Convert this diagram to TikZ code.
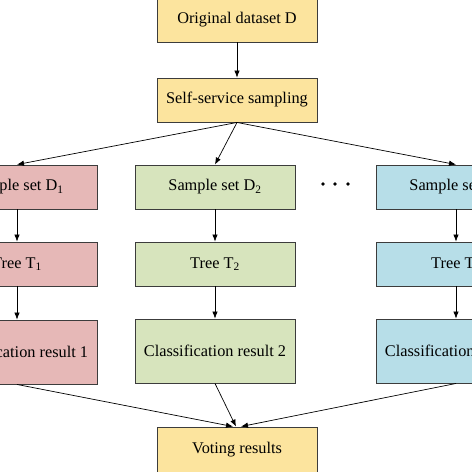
\documentclass[tikz,border=0pt]{standalone}
\usepackage{fontspec}
\setmainfont{Liberation Serif}
\usetikzlibrary{arrows.meta}
\definecolor{boxyellow}{RGB}{252,228,158}
\definecolor{boxpink}{RGB}{230,184,183}
\definecolor{boxgreen}{RGB}{215,228,189}
\definecolor{boxblue}{RGB}{183,222,232}
\definecolor{boxline}{RGB}{60,60,60}
\tikzset{
  stagebox/.style={draw=boxline, line width=0.9pt, minimum width=160, minimum height=44,
    inner sep=0pt, font=\fontsize{16.3}{19}\selectfont},
  flowarrow/.style={-{Latex[length=7pt,width=5.5pt]}, line width=0.7pt}
}
\begin{document}
\begin{tikzpicture}[x=1pt,y=1pt,yscale=-1,xscale=1]
        \clip (0,0) rectangle (472,472);
        % main column
        \node [stagebox, fill=boxyellow] (orig) at (237,20) {Original dataset D};
        \node [stagebox, fill=boxyellow] (samp) at (237,100) {Self-service sampling};
        % sample sets
        \node [stagebox, fill=boxpink] (set1) at (17,187) {Sample set D\textsubscript{1}};
        \node [stagebox, fill=boxgreen] (set2) at (215,187) {Sample set D\textsubscript{2}};
        \node [stagebox, fill=boxblue] (setn) at (456,187) {Sample set D\textsubscript{n}};
        % trees
        \node [stagebox, fill=boxpink] (tree1) at (17,264) {Tree T\textsubscript{1}};
        \node [stagebox, fill=boxgreen] (tree2) at (215,264) {Tree T\textsubscript{2}};
        \node [stagebox, fill=boxblue] (treen) at (456,264) {Tree T\textsubscript{n}};
        % results
        \node [stagebox, fill=boxpink, minimum height=64] (res1) at (17,352) {Classification result 1};
        \node [stagebox, fill=boxgreen, minimum height=64] (res2) at (215,351) {Classification result 2};
        \node [stagebox, fill=boxblue, minimum height=64] (resn) at (456,351) {Classification result n};
        \node [stagebox, fill=boxyellow, minimum height=46] (vote) at (237,450) {Voting results};
        \foreach \x in {323,335,348} \fill (\x,184) circle (1.9);
        % connectors
        \draw [flowarrow] (orig) -- (samp);
        \draw [flowarrow] (samp.south) -- (set1.north);
        \draw [flowarrow] (samp.south) -- (set2.north);
        \draw [flowarrow] (samp.south) -- (setn.north);
        \draw [flowarrow] (set1) -- (tree1);
        \draw [flowarrow] (set2) -- (tree2);
        \draw [flowarrow] (setn) -- (treen);
        \draw [flowarrow] (tree1) -- (res1);
        \draw [flowarrow] (tree2) -- (res2);
        \draw [flowarrow] (treen) -- (resn);
        \draw [flowarrow] (res1.south) -- ([xshift=-4]vote.north);
        \draw [flowarrow] (res2.south) -- ([xshift=-1]vote.north);
        \draw [flowarrow] (resn.south) -- ([xshift=4]vote.north);
    \end{tikzpicture}
\end{document}
